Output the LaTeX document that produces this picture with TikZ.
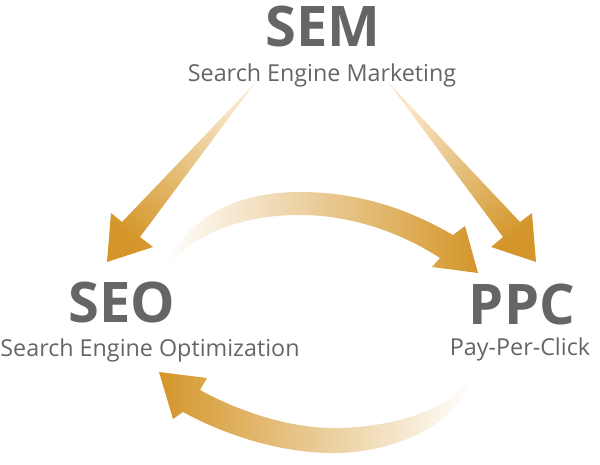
\documentclass[tikz,border=0pt]{standalone}
\usepackage{fontspec}
\setmainfont{Open Sans}
\definecolor{textgray}{RGB}{99,101,103}
\definecolor{golddark}{RGB}{212,150,42}
\definecolor{goldpale}{RGB}{236,202,145}
\definecolor{goldtail}{RGB}{248,230,200}
\tikzset{
  bigtext/.style={text=textgray,font=\bfseries\fontsize{56}{56}\selectfont,anchor=base,inner sep=0pt},
  subtext/.style={text=textgray,font=\fontsize{23.3}{23.3}\selectfont,anchor=base,inner sep=0pt},
  goldarrow/.style={left color=goldtail,right color=golddark}
}
\begin{document}
\begin{tikzpicture}[x=1pt,y=-1pt]
  \useasboundingbox (0,0) rectangle (600,465);

  % labels
  \node[bigtext] (sem) at (323,47) {SEM};
  \node[subtext] (semsub) at (322,82) {Search Engine Marketing};
  \node[bigtext] (seo) at (122,322) {SEO};
  \node[subtext] (seosub) at (150,356) {Search Engine Optimization};
  \node[bigtext] (ppc) at (522,324) {PPC};
  \node[subtext] (ppcsub) at (520,355) {Pay-Per-Click};

  % SEM -> SEO
  \shade[goldarrow,shading angle=-40] (255,83) -- (140,237) -- (153,247) -- (107,262)
    -- (111,213) -- (122,222) -- cycle;
  % SEM -> PPC
  \shade[goldarrow,shading angle=40] (388,82) -- (520,222) -- (532,213) -- (536,262)
    -- (491,247) -- (503,237) -- cycle;
  % SEO -> PPC
  \shade[left color=white,middle color=goldpale,right color=golddark]
    (165,271) .. controls (185,215) and (240,192) .. (300,192)
    .. controls (360,192) and (410,210) .. (453,235) -- (465,226) -- (478,273)
    -- (432,267) -- (440,258) .. controls (400,232) and (350,215) .. (300,215)
    .. controls (240,215) and (190,235) .. (165,271) -- cycle;
  % PPC -> SEO
  \shade[left color=golddark,middle color=goldpale,right color=white]
    (473,372) .. controls (465,420) and (400,453) .. (333,453)
    .. controls (280,453) and (225,435) .. (183,412) -- (173,419) -- (159,372)
    -- (207,378) -- (200,390) .. controls (240,412) and (290,428) .. (333,428)
    .. controls (400,428) and (460,405) .. (473,372) -- cycle;
\end{tikzpicture}
\end{document}
